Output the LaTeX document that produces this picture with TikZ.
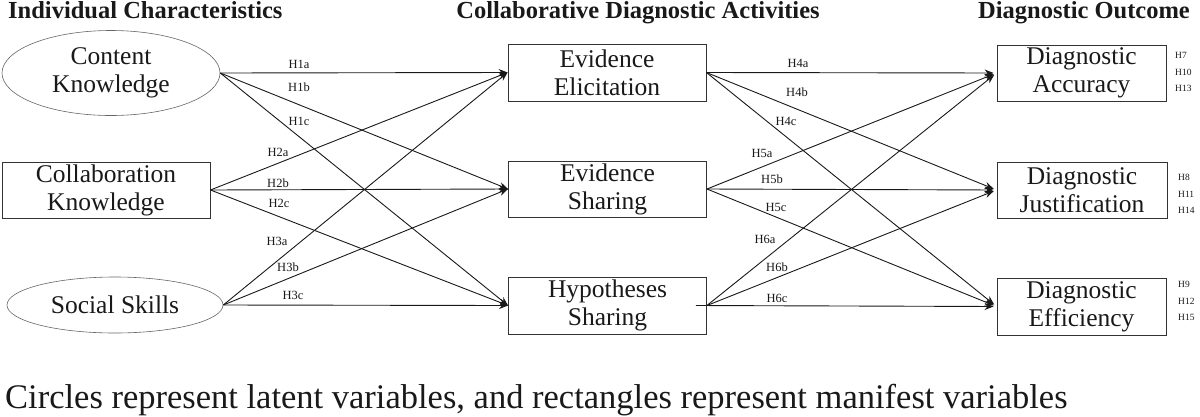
\documentclass[tikz,border=0pt]{standalone}
\usepackage{fontspec}
\setmainfont{Liberation Serif}
\usetikzlibrary{shapes.geometric,arrows.meta}
\begin{document}
\begin{tikzpicture}[x=1pt,y=-1pt,
  lat/.style={ellipse,draw=black!60,line width=0.6pt,inner sep=0pt,align=center,
    font=\fontsize{25.5}{28}\selectfont,text=black!90},
  man/.style={rectangle,draw=black!80,line width=0.9pt,inner sep=0pt,align=center,
    font=\fontsize{25.5}{28}\selectfont,text=black!90},
  conn/.style={draw=black!90,line width=0.9pt,-{Stealth[length=9pt,width=7pt]}},
  hl/.style={font=\fontsize{12.5}{14}\selectfont,text=black!90,inner sep=0pt},
  side/.style={font=\fontsize{9.5}{16.5}\selectfont,align=left,anchor=west,inner sep=0pt,text=black!90},
  ttl/.style={font=\bfseries\fontsize{24.5}{28}\selectfont,inner sep=0pt,text=black!90}]
\useasboundingbox (0,0) rectangle (1200,416);

% titles
\node[ttl,anchor=base west] (t1) at (8,18) {Individual Characteristics};
\node[ttl,anchor=base] (t2) at (638,18) {Collaborative Diagnostic Activities};
\node[ttl,anchor=base west] (t3) at (978,18) {Diagnostic Outcome};

% left column
\node[lat,minimum width=218pt,minimum height=85pt] (ck) at (111,73) {Content\\Knowledge};
\node[man,minimum width=208pt,minimum height=56pt] (cb) at (106,190) {Collaboration\\Knowledge};
\node[lat,minimum width=216pt,minimum height=56pt] (ss) at (115,305) {Social Skills};

% middle column
\node[man,minimum width=198pt,minimum height=57pt] (ee) at (607,72.5) {Evidence\\Elicitation};
\node[man,minimum width=198pt,minimum height=56pt] (es) at (607.5,189) {Evidence\\Sharing};
\node[man,minimum width=198pt,minimum height=57pt] (hs) at (607.5,305.5) {Hypotheses\\Sharing};

% right column
\node[man,minimum width=169pt,minimum height=56pt] (da) at (1081.5,73) {Diagnostic\\Accuracy};
\node[man,minimum width=170pt,minimum height=56pt] (dj) at (1082,190) {Diagnostic\\Justification};
\node[man,minimum width=169pt,minimum height=57pt] (df) at (1081.5,306.5) {Diagnostic\\Efficiency};

% side labels
\node[side] (s1) at (1175,72) {H7\\H10\\H13};
\node[side] (s2) at (1178,194) {H8\\H11\\H14};
\node[side] (s3) at (1178,301) {H9\\H12\\H15};

% connectors left -> middle
\draw[conn] (ck.east) -- (ee.west);
\draw[conn] (ck.east) -- (es.west);
\draw[conn] (ck.east) -- (hs.west);
\draw[conn] (cb.east) -- (ee.west);
\draw[conn] (cb.east) -- (es.west);
\draw[conn] (cb.east) -- (hs.west);
\draw[conn] (ss.east) -- (ee.west);
\draw[conn] (ss.east) -- (es.west);
\draw[conn] (ss.east) -- (hs.west);

% connectors middle -> right
\draw[conn,shorten >=3pt] (ee.east) -- (da.west);
\draw[conn,shorten >=3pt] (ee.east) -- (dj.west);
\draw[conn,shorten >=3pt] (ee.east) -- (df.west);
\draw[conn,shorten >=3pt] (es.east) -- (da.west);
\draw[conn,shorten >=3pt] (es.east) -- (dj.west);
\draw[conn,shorten >=3pt] (es.east) -- (df.west);
\draw[conn,shorten >=3pt] (hs.east) -- (da.west);
\draw[conn,shorten >=3pt] (hs.east) -- (dj.west);
\draw[conn,shorten >=3pt] ([xshift=-11pt]hs.east) -- (df.west);

% hypothesis labels
\node[hl] (h1a) at (299,64) {H1a};
\node[hl] (h1b) at (299,87) {H1b};
\node[hl] (h1c) at (299,121) {H1c};
\node[hl] (h2a) at (278,152) {H2a};
\node[hl] (h2b) at (278,183) {H2b};
\node[hl] (h2c) at (279,203) {H2c};
\node[hl] (h3a) at (277,241) {H3a};
\node[hl] (h3b) at (288,267) {H3b};
\node[hl] (h3c) at (293,295) {H3c};
\node[hl] (h4a) at (798,63) {H4a};
\node[hl] (h4b) at (797,92) {H4b};
\node[hl] (h4c) at (786,121) {H4c};
\node[hl] (h5a) at (762,153) {H5a};
\node[hl] (h5b) at (772,179) {H5b};
\node[hl] (h5c) at (776,207) {H5c};
\node[hl] (h6a) at (765,239) {H6a};
\node[hl] (h6b) at (777,267) {H6b};
\node[hl] (h6c) at (777,298) {H6c};

% caption
\node[anchor=base west,inner sep=0pt,font=\fontsize{34.5}{40}\selectfont,text=black!90] (cap) at (5,408)
  {Circles represent latent variables, and rectangles represent manifest variables};
\end{tikzpicture}
\end{document}
